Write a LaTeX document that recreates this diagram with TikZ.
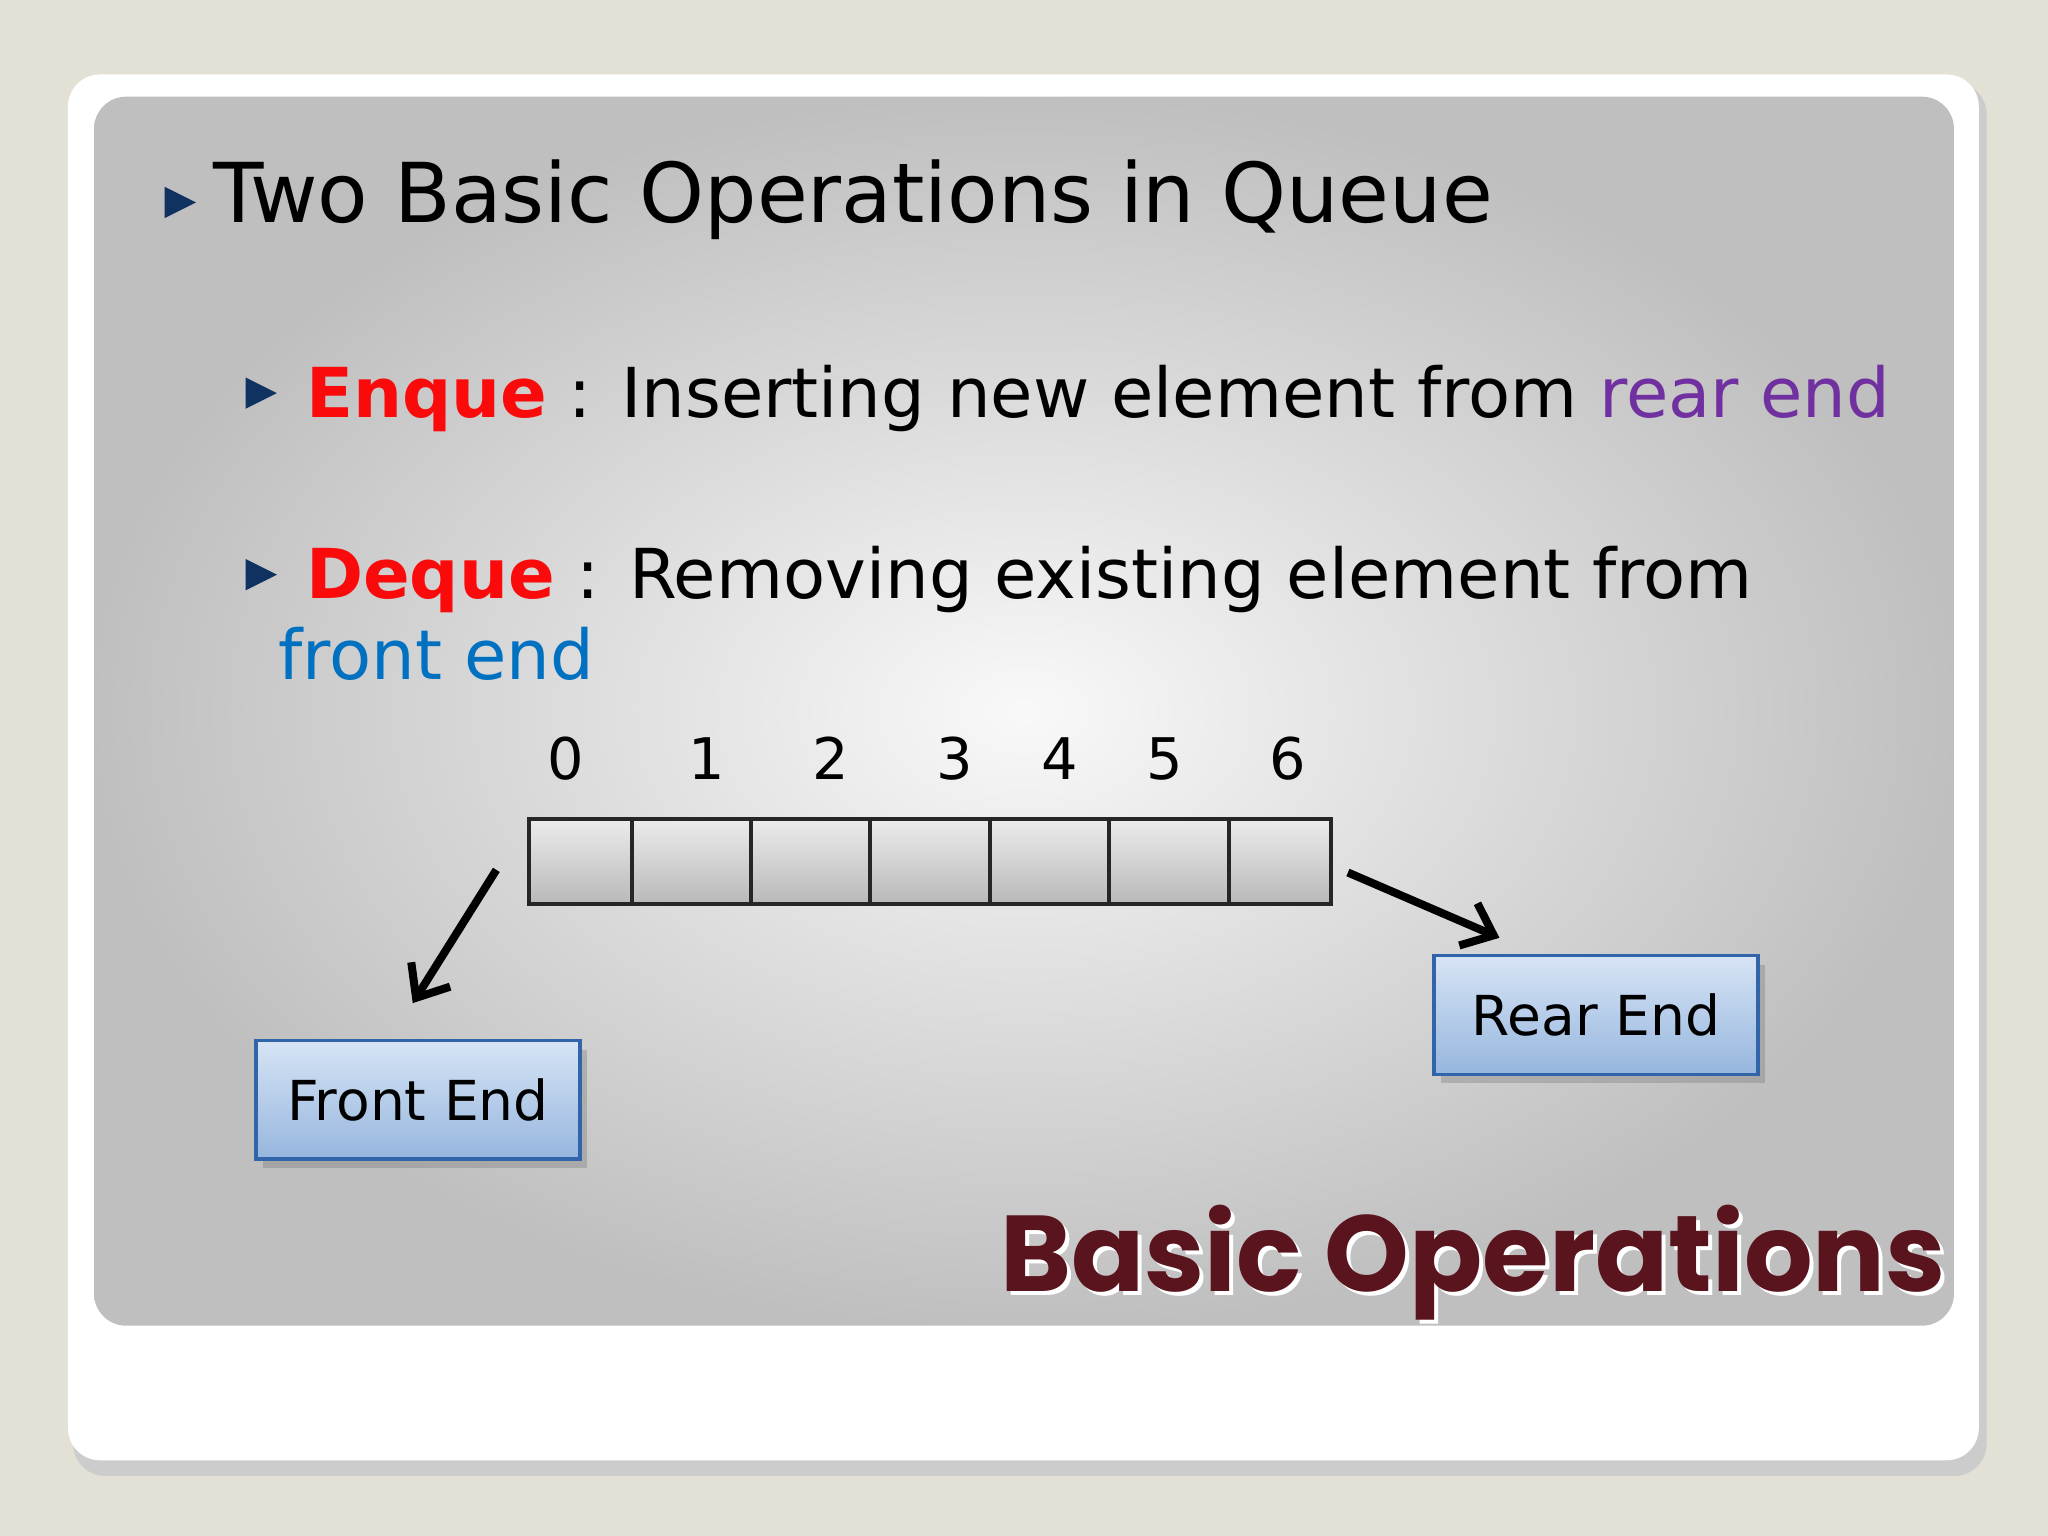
\documentclass[tikz,border=0pt]{standalone}
\usepackage{fontspec}
\setmainfont{DejaVu Sans}
\newfontfamily\titlefont{Poppins}
\usetikzlibrary{positioning,shadows,arrows.meta}
\definecolor{pagebg}{RGB}{227,224,213}
\definecolor{bulletblue}{RGB}{16,50,96}
\definecolor{enqred}{RGB}{250,10,10}
\definecolor{rearpurple}{RGB}{112,48,160}
\definecolor{frontblue}{RGB}{0,112,192}
\definecolor{boxblue}{RGB}{50,100,170}
\definecolor{boxtop}{RGB}{215,228,245}
\definecolor{boxbottom}{RGB}{150,182,222}
\definecolor{maroon}{RGB}{90,20,30}
\tikzset{
  bullet/.style={fill=bulletblue, draw=none},
  cell/.style={draw=black!85, line width=1.5pt, top color=gray!15, bottom color=gray!55},
  endbox/.style={draw=boxblue, line width=1.5pt, top color=boxtop, bottom color=boxbottom,
    drop shadow={shadow xshift=3pt, shadow yshift=-4pt, opacity=0.4},
    minimum width=4.96cm, minimum height=1.82cm, font=\fontsize{24}{30}\selectfont},
  idx/.style={font=\fontsize{25}{30}\selectfont, anchor=base},
  pointer/.style={line width=3.5pt, -{Straight Barb[length=12pt,width=20pt]}}
}
\begin{document}
\begin{tikzpicture}[x=0.02cm, y=-0.02cm]
  \useasboundingbox (0,0) rectangle (1568,1176);
  \fill[pagebg] (0,0) rectangle (1568,1176);

  % card and panel
  \fill[black!20, rounded corners=14pt] (56,63) rectangle (1521,1130);
  \fill[white, rounded corners=14pt] (52,57) rectangle (1515,1118);
  \shade[inner color=white!95!gray, outer color=gray!50, rounded corners=14pt] (72,74) rectangle (1496,1015);

  % bullet texts
  \fill[bullet] (126,143) -- (150,155) -- (126,167) -- cycle;
  \node[anchor=base west, inner sep=0] (title) at (163,170)
    {\fontsize{36}{44}\selectfont Two Basic Operations in Queue};

  \fill[bullet] (188,289) -- (212,301) -- (188,313) -- cycle;
  \node[anchor=base west, inner sep=0] (enque) at (234,320)
    {\fontsize{30}{38}\selectfont\textcolor{enqred}{\textbf{Enque}} : Inserting new element from \textcolor{rearpurple}{rear end}};

  \fill[bullet] (188,428) -- (212,440) -- (188,452) -- cycle;
  \node[anchor=base west, inner sep=0] (deque) at (234,458)
    {\fontsize{30}{38}\selectfont\textcolor{enqred}{\textbf{Deque}} : Removing existing element from};
  \node[anchor=base west, inner sep=0] (front) at (213,520)
    {\fontsize{30}{38}\selectfont\textcolor{frontblue}{front end}};

  % queue array
  \foreach \xa/\xb/\xi [count=\i from 0] in {405/484/433, 484/575/541, 575/666/636, 666/758/731, 758/849/811, 849/941/892, 941/1019/986}{
    \draw[cell] (\xa,627) rectangle (\xb,692);
    \node[idx] (idx\i) at (\xi,597) {\i};
  }
  \coordinate (qleft) at (380,666);
  \coordinate (qright) at (1032,668);

  % end boxes
  \node[endbox] (frontend) at (320,842) {Front End};
  \node[endbox] (rearend) at (1222,777) {Rear End};

  \draw[pointer] (qleft) -- (316,768);
  \draw[pointer] (qright) -- (1148,718);

  % slide title
  \node[anchor=base east, inner sep=0, text=white] (titleglow) at (1493,992)
    {\titlefont\bfseries\fontsize{47}{56}\selectfont Basic Operations};
  \node[anchor=base east, inner sep=0, text=maroon] (slidetitle) at (1490,989)
    {\titlefont\bfseries\fontsize{47}{56}\selectfont Basic Operations};
\end{tikzpicture}
\end{document}
